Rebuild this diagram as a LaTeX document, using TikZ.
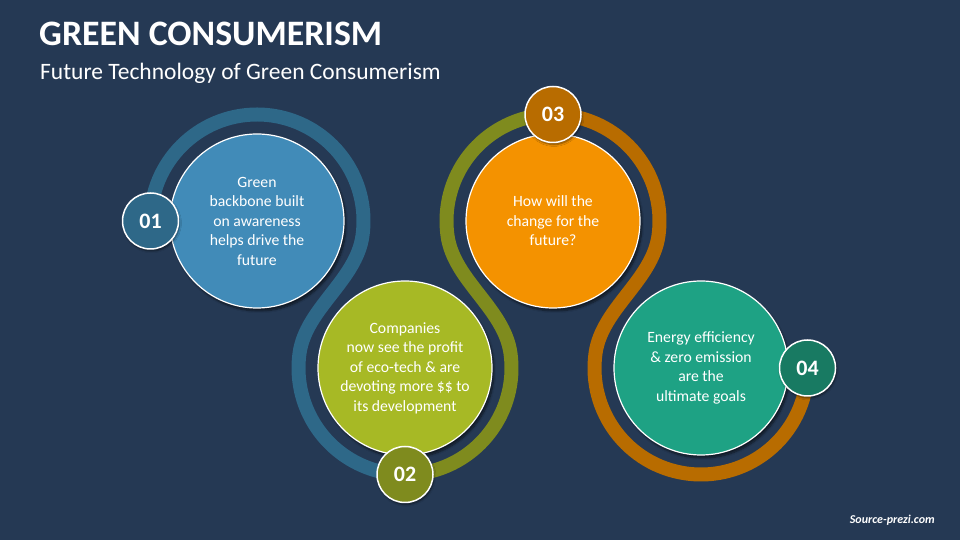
\documentclass[tikz,border=0pt]{standalone}
\usepackage{fontspec}
\setmainfont{Carlito}
\usetikzlibrary{shadows.blur}
\definecolor{bg}{RGB}{37,57,84}
\definecolor{cone}{RGB}{65,139,184}
\definecolor{rone}{RGB}{46,104,136}
\definecolor{ctwo}{RGB}{167,185,37}
\definecolor{rtwo}{RGB}{127,139,30}
\definecolor{cthree}{RGB}{244,146,0}
\definecolor{rthree}{RGB}{184,108,0}
\definecolor{cfour}{RGB}{30,162,132}
\definecolor{bfour}{RGB}{24,122,98}
\tikzset{
  bigdisc/.style={circle, draw=white, line width=1.2pt, minimum size=174pt, inner sep=0pt,
    align=center, text=white, font=\fontsize{15.7}{19.5}\selectfont,
    blur shadow={shadow xshift=2pt, shadow yshift=-3pt, shadow blur steps=8, shadow opacity=55}},
  badge/.style={circle, draw=white, line width=1.5pt, minimum size=56pt, inner sep=0pt,
    text=white, font=\bfseries\fontsize{22}{22}\selectfont,
    blur shadow={shadow xshift=1pt, shadow yshift=-2pt, shadow blur steps=6, shadow opacity=50}},
  band/.style={line width=14pt},
}
\begin{document}
\begin{tikzpicture}[x=1pt,y=1pt]
\fill[bg] (0,0) rectangle (960,540);
\useasboundingbox (0,0) rectangle (960,540);
\coordinate (c1) at (257,319);
\coordinate (c2) at (405,172);
\coordinate (c3) at (553,319);
\coordinate (c4) at (701,172);
\def\R{106.5}
% rings
\draw[band, rone] (c1) ++(180:\R) arc[start angle=180, end angle=-8, radius=\R]
  .. controls +(262:45) and +(82:45) .. ([shift={(172:\R)}]c2)
  arc[start angle=172, end angle=270, radius=\R];
\draw[band, rtwo] (c2) ++(270:\R) arc[start angle=270, end angle=368, radius=\R]
  .. controls +(98:45) and +(278:45) .. ([shift={(188:\R)}]c3)
  arc[start angle=188, end angle=90, radius=\R];
\draw[band, rthree] (c3) ++(90:\R) arc[start angle=90, end angle=-8, radius=\R]
  .. controls +(262:45) and +(82:45) .. ([shift={(172:\R)}]c4)
  arc[start angle=172, end angle=360, radius=\R];
% circles
\node[bigdisc, fill=cone] (d1) at (c1) {Green\\backbone built\\on awareness\\helps drive the\\future};
\node[bigdisc, fill=ctwo] (d2) at (c2) {Companies\\now see the profit\\of eco-tech \& are\\devoting more \$\$ to\\its development};
\node[bigdisc, fill=cthree] (d3) at (c3) {How will the\\change for the\\future?};
\node[bigdisc, fill=cfour] (d4) at (c4) {Energy efficiency\\\& zero emission\\are the\\ultimate goals};
% badges
\node[badge, fill=rone] (b1) at ([shift={(180:\R)}]c1) {01};
\node[badge, fill=rtwo] (b2) at ([shift={(270:\R)}]c2) {02};
\node[badge, fill=rthree] (b3) at ([shift={(90:\R)}]c3) {03};
\node[badge, fill=bfour] (b4) at ([shift={(0:\R)}]c4) {04};
% titles
\node[anchor=base west, inner sep=0, text=white, font=\bfseries\fontsize{35.8}{36}\selectfont] (title) at (39,494) {GREEN CONSUMERISM};
\node[anchor=base west, inner sep=0, text=white, font=\fontsize{23.5}{24}\selectfont] (sub) at (40,460) {Future Technology of Green Consumerism};
\node[anchor=base east, inner sep=0, text=white, font=\bfseries\itshape\fontsize{12}{12}\selectfont] (src) at (935,16) {Source-prezi.com};
\end{tikzpicture}
\end{document}
